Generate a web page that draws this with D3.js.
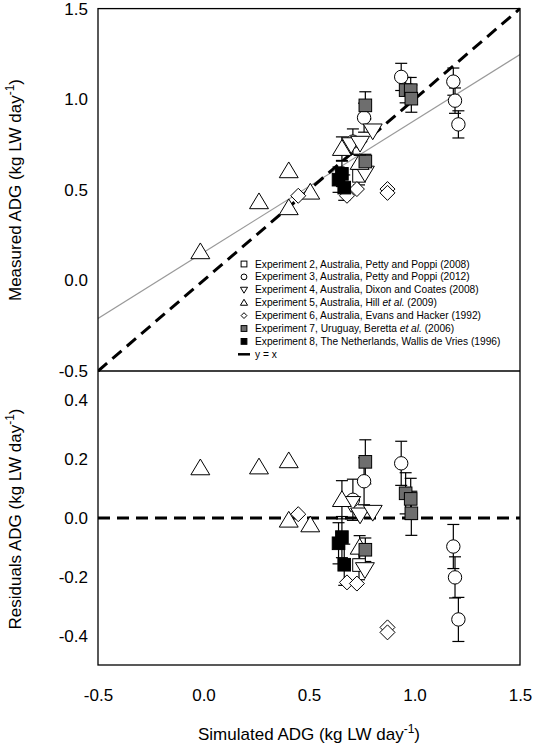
<!DOCTYPE html><html><head><meta charset="utf-8">
<script src="https://cdn.jsdelivr.net/npm/d3@7"></script>
<style>body{margin:0;background:#fff}text{font-family:"Liberation Sans",Arial,sans-serif}</style></head>
<body><svg id="c" width="533" height="744"></svg>
<script>
// series: [simulated, measured, residual, errorbar]
const exp2=[[0.737,0.577,-0.16,0.05]];
const exp3=[[0.761,0.898,0.125,0.08],[0.708,0.766,0.062,0.07],[0.937,1.123,0.186,0.075],[1.184,1.097,-0.097,0.075],[1.192,0.992,-0.202,0.07],[1.208,0.861,-0.345,0.075]];
const exp4=[[0.70,0.75,0.05,0],[0.742,0.758,0.011,0],[0.802,0.826,0.02,0],[0.765,0.593,-0.175,0]];
const exp5=[[-0.015,0.157,0.17,0],[0.263,0.433,0.173,0],[0.404,0.604,0.194,0],[0.404,0.40,-0.008,0],[0.506,0.486,-0.024,0],[0.656,0.727,0.062,0.065],[0.74,0.65,-0.10,0.04]];
const exp6=[[0.449,0.467,0.013,0],[0.68,0.467,-0.219,0],[0.727,0.504,-0.223,0],[0.872,0.504,-0.372,0],[0.872,0.483,-0.389,0]];
const exp7=[[0.767,0.966,0.191,0.075],[0.958,1.05,0.084,0.07],[0.982,1.05,0.065,0.07],[0.985,1.003,0.016,0.075],[0.767,0.656,-0.108,0.04]];
const exp8=[[0.64,0.556,-0.086,0.07],[0.656,0.588,-0.065,0.07],[0.667,0.512,-0.159,0.07]];
const regression=[[-0.5,-0.21],[1.5,1.247]];
const xTicks=[-0.5,0,0.5,1.0,1.5], yTopTicks=[-0.5,0,0.5,1.0,1.5], yBotTicks=[-0.4,-0.2,0,0.2,0.4];
const legendLabels=["Experiment 2, Australia, Petty and Poppi (2008)","Experiment 3, Australia, Petty and Poppi (2012)","Experiment 4, Australia, Dixon and Coates (2008)","Experiment 5, Australia, Hill |et al.| (2009)","Experiment 6, Australia, Evans and Hacker (1992)","Experiment 7, Uruguay, Beretta |et al.| (2006)","Experiment 8, The Netherlands, Wallis de Vries (1996)","y = x"];

const svg=d3.select("#c");
const x=d3.scaleLinear().domain([-0.5,1.5]).range([98,520]);
const yT=d3.scaleLinear().domain([-0.5,1.5]).range([371,8.6]);
const yB=d3.scaleLinear().domain([-0.5,0.5]).range([665,371]);
const series=[
 {d:exp2,shape:"sq",fill:"#fff",s:6.3},{d:exp3,shape:"ci",fill:"#fff",s:6.7},{d:exp4,shape:"tD",fill:"#fff",s:9},
 {d:exp5,shape:"tU",fill:"#fff",s:9},{d:exp6,shape:"di",fill:"#fff",s:7.5},{d:exp7,shape:"sq",fill:"#6e6e6e",s:6.3},{d:exp8,shape:"sq",fill:"#000",s:6.3}];
function sym(g,shape,s,fill){
  let p;
  if(shape=="ci") p=g.append("circle").attr("r",s);
  else if(shape=="sq") p=g.append("rect").attr("x",-s).attr("y",-s).attr("width",2*s).attr("height",2*s);
  else if(shape=="tU") p=g.append("path").attr("d",`M0,${-s}L${s*1.05},${s*0.75}L${-s*1.05},${s*0.75}Z`);
  else if(shape=="tD") p=g.append("path").attr("d",`M0,${s}L${s*1.05},${-s*0.75}L${-s*1.05},${-s*0.75}Z`);
  else p=g.append("path").attr("d",`M0,${-s}L${s},0L0,${s}L${-s},0Z`);
  p.attr("fill",fill).attr("stroke","#000").attr("stroke-width",1);
}
svg.append("clipPath").attr("id","cl").append("rect").attr("x",98).attr("y",0).attr("width",422).attr("height",665);
const clip=svg.append("g").attr("clip-path","url(#cl)");
clip.append("line").attr("x1",x(regression[0][0])).attr("y1",yT(regression[0][1])).attr("x2",x(regression[1][0])).attr("y2",yT(regression[1][1])).attr("stroke","#999").attr("stroke-width",1.2);
clip.append("line").attr("x1",x(-0.5)).attr("y1",yT(-0.5)).attr("x2",x(1.5)).attr("y2",yT(1.5)).attr("stroke","#000").attr("stroke-width",3).attr("stroke-dasharray","12,7");
clip.append("line").attr("x1",x(-0.5)).attr("y1",yB(0)).attr("x2",x(1.5)).attr("y2",yB(0)).attr("stroke","#000").attr("stroke-width",3).attr("stroke-dasharray","12,7");
function drawPanel(yS,idx){
  series.forEach(se=>se.d.forEach(p=>{
    const cx=x(p[0]),e=p[3];
    if(e>0){const g=clip.append("g").attr("stroke","#000").attr("stroke-width",1.2);
      g.append("line").attr("x1",cx).attr("x2",cx).attr("y1",yS(p[idx]+e)).attr("y2",yS(p[idx]-e));
      [p[idx]+e,p[idx]-e].forEach(v=>g.append("line").attr("x1",cx-6).attr("x2",cx+6).attr("y1",yS(v)).attr("y2",yS(v)));}
  }));
  series.forEach(se=>se.d.forEach(p=>{
    const g=clip.append("g").attr("transform",`translate(${x(p[0])},${yS(p[idx])})`);sym(g,se.shape,se.s,se.fill);
  }));
}
drawPanel(yT,1);drawPanel(yB,2);
svg.append("rect").attr("x",98).attr("y",8.6).attr("width",422).attr("height",656.4).attr("fill","none").attr("stroke","#000").attr("stroke-width",1.3);
svg.append("line").attr("x1",98).attr("x2",520).attr("y1",371).attr("y2",371).attr("stroke","#000").attr("stroke-width",1.3);
const ax=g=>{g.select(".domain").remove();g.selectAll("line").remove();g.selectAll("text").attr("font-size",17).attr("font-family","Liberation Sans, Arial");};
svg.append("g").attr("transform","translate(98,0)").call(d3.axisLeft(yT).tickValues(yTopTicks).tickFormat(d3.format(".1f")).tickSize(0).tickPadding(10)).call(ax);
svg.append("g").attr("transform","translate(98,0)").call(d3.axisLeft(yB).tickValues(yBotTicks).tickFormat(d3.format(".1f")).tickSize(0).tickPadding(10)).call(ax);
svg.append("g").attr("transform","translate(0,665)").call(d3.axisBottom(x).tickValues(xTicks).tickFormat(d3.format(".1f")).tickSize(0).tickPadding(24)).call(ax);
svg.selectAll("text").each(function(){const t=d3.select(this);t.text(t.text().replace("−","-"));});
function title(tx,ty,rot,main){
  const t=svg.append("text").attr("transform",`translate(${tx},${ty}) rotate(${rot})`).attr("text-anchor","middle").attr("font-size",17);
  t.append("tspan").text(main+" (kg LW day");t.append("tspan").attr("dy",-7).attr("font-size",12).text("-1");t.append("tspan").attr("dy",7).text(")");
}
title(309,740,0,"Simulated ADG");
title(21,190,-90,"Measured ADG");
title(21,519,-90,"Residuals ADG");
legendLabels.forEach((lab,i)=>{
  const yy=267.5+i*12.9;
  if(i<7){const g=svg.append("g").attr("transform",`translate(244,${yy-3.5})`);sym(g,series[i].shape,i==2||i==3?3.4:2.9,series[i].fill);}
  else svg.append("line").attr("x1",238).attr("x2",250).attr("y1",yy-3.5).attr("y2",yy-3.5).attr("stroke","#000").attr("stroke-width",2.5);
  const t=svg.append("text").attr("x",255).attr("y",yy).attr("font-size",10.2);
  lab.split("|").forEach((s,k)=>t.append("tspan").attr("font-style",k==1?"italic":null).text(s));
});
</script></body></html>
